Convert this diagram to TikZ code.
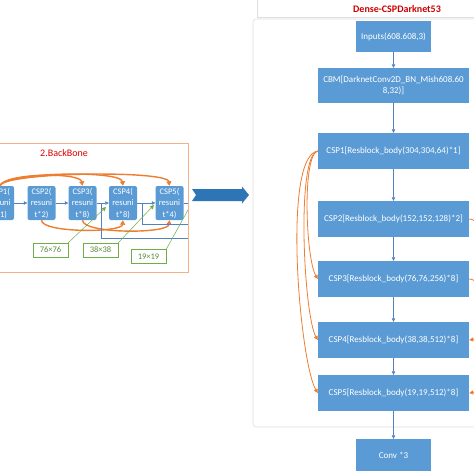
\documentclass[tikz,border=0pt]{standalone}
\usepackage{fontspec}
\setmainfont{Carlito}
\usepackage{xcolor}
\usetikzlibrary{arrows.meta}

\definecolor{boxblue}{RGB}{91,155,213}
\definecolor{linkblue}{RGB}{84,130,190}
\definecolor{skiporange}{RGB}{237,125,49}
\definecolor{panelorange}{RGB}{244,177,131}
\definecolor{framegray}{RGB}{222,222,222}
\definecolor{titlered}{RGB}{204,0,0}
\definecolor{featgreen}{RGB}{112,173,71}
\definecolor{bigblue}{RGB}{46,117,182}

\begin{document}
\begin{tikzpicture}[
  x=1pt, y=-1pt,
  every node/.style={font=\fontsize{9}{10.5}\selectfont},
  block/.style={
    fill=boxblue,
    text=white,
    align=center,
    inner sep=1pt,
    minimum width=151pt,
    minimum height=36pt
  },
  cell/.style={
    fill=boxblue,
    text=white,
    rounded corners=2pt,
    align=center,
    inner sep=0pt,
    minimum width=28pt,
    minimum height=34pt,
    font=\fontsize{8.5}{11.5}\selectfont
  },
  tag/.style={
    draw=featgreen,
    line width=0.5pt,
    text=featgreen!80!black,
    inner sep=1pt,
    minimum width=35pt,
    minimum height=14pt,
    font=\fontsize{8.5}{10}\selectfont
  },
  link/.style={-{Triangle[length=3.5pt,width=3.5pt]}, line width=0.6pt, draw=linkblue},
  skip/.style={-{Triangle[length=4.5pt,width=5pt]}, line width=1.4pt, draw=skiporange},
  dense/.style={-{Triangle[length=4pt,width=4pt]}, line width=0.8pt, draw=skiporange},
  feed/.style={line width=0.5pt, draw=linkblue},
  hint/.style={-{Triangle[length=4pt,width=4pt]}, line width=0.5pt, draw=featgreen}
]
\useasboundingbox (0,0) rectangle (474,474);
\clip (0,0) rectangle (474,474);

% left panel: backbone
\draw[panelorange, line width=0.6pt] (-5,143) rectangle (188,272);
\node[text=red!85!black, font=\fontsize{10}{12}\selectfont] (bbtitle) at (64,153) {2.BackBone};

\node[cell] (bcsp1) at (0,203) {CSP1(\\resuni\\t*1)};
\node[cell] (bcsp2) at (41.5,203) {CSP2(\\resuni\\t*2)};
\node[cell] (bcsp3) at (82.5,203) {CSP3(\\resuni\\t*8)};
\node[cell] (bcsp4) at (123,203) {CSP4(\\resuni\\t*8)};
\node[cell] (bcsp5) at (169.5,203) {CSP5(\\resuni\\t*4)};

\foreach \a/\b in {bcsp1/bcsp2,bcsp2/bcsp3,bcsp3/bcsp4,bcsp4/bcsp5}
  \draw[link] (\a) -- (\b);

\draw[skip] (bcsp1.north) .. controls (4,173) and (80,172) .. (bcsp3.north);
\draw[skip] (bcsp1.north) .. controls (4,172) and (121,170) .. (bcsp4.north);
\draw[skip] (bcsp1.north) .. controls (4,172) and (167,170) .. (bcsp5.north);
\draw[skip] (bcsp2.south) .. controls (41.5,233) and (122,233) .. (bcsp4.south);
\draw[skip] (bcsp3.south) .. controls (82.5,234) and (168,234) .. (bcsp5.south);

% outputs to the neck
\coordinate (tap3) at (101,203);
\coordinate (tap4) at (142,203);
\coordinate (out3) at (188,238);
\coordinate (out4) at (188,224);
\coordinate (out5) at (188,203);
\draw[feed] (tap3) |- (out3);
\draw[feed] (tap4) |- (out4);
\draw[feed] (bcsp5.east) -- (out5);

\node[tag] (f76) at (50.5,250) {76×76};
\node[tag] (f38) at (100.5,250) {38×38};
\node[tag] (f19) at (148.5,256.5) {19×19};
\coordinate (hit3) at (106,207);
\coordinate (hit4) at (154,205);
\coordinate (hit5) at (188,210);
\draw[hint] (f76.north east) -- (hit3);
\draw[hint] (f38.north east) -- (hit4);
\draw[line width=0.5pt, draw=featgreen] (f19.north east) -- (hit5);

% big arrow between panels
\fill[bigblue] (192,189) -- (242,189) -- (242,186.5) -- (249,195) -- (242,203.5)
  -- (242,201) -- (192,201) -- (196,195) -- cycle;

% right panel: Dense-CSPDarknet53
\draw[framegray, line width=0.6pt] (257,-10) rectangle (490,17);
\draw[framegray, line width=0.6pt, rounded corners=3pt] (253,19) rectangle (490,427);
\node[text=titlered, font=\bfseries\fontsize{10}{12}\selectfont] (dtitle) at (397,9.5) {Dense-CSPDarknet53};

\node[block, minimum width=75pt, minimum height=31pt] (inputs) at (393.5,36.5) {Inputs(608.608,3)};
\node[block, minimum height=35pt] (cbm) at (393.5,85.5) {CBM[DarknetConv2D\_BN\_Mish608.60\\8,32)]};
\node[block] (dcsp1) at (393.5,151) {CSP1[Resblock\_body(304,304,64)*1]};
\node[block] (dcsp2) at (393.5,219) {CSP2[Resblock\_body(152,152,128)*2]};
\node[block] (dcsp3) at (393.5,279) {CSP3[Resblock\_body(76,76,256)*8]};
\node[block] (dcsp4) at (393.5,340) {CSP4[Resblock\_body(38,38,512)*8]};
\node[block] (dcsp5) at (393.5,393) {CSP5[Resblock\_body(19,19,512)*8]};
\node[block, minimum width=75pt, minimum height=32pt] (conv) at (393.5,455) {Conv *3};

\foreach \a/\b in {inputs/cbm,cbm/dcsp1,dcsp1/dcsp2,dcsp2/dcsp3,dcsp3/dcsp4,dcsp4/dcsp5,dcsp5/conv}
  \draw[link] (\a) -- (\b);

\draw[dense] (dcsp1.west) .. controls +(-16,4) and +(-12,-20) .. (dcsp3.west);
\draw[dense] (dcsp1.west) .. controls +(-22,4) and +(-14,-24) .. (dcsp4.west);
\draw[dense] (dcsp1.west) .. controls +(-36,5) and +(-18,-30) .. (dcsp5.west);
\draw[dense] (dcsp2.east) .. controls +(30,2) and +(30,-4) .. (dcsp4.east);
\draw[dense] (dcsp3.east) .. controls +(30,2) and +(30,-4) .. (dcsp5.east);
\end{tikzpicture}
\end{document}
